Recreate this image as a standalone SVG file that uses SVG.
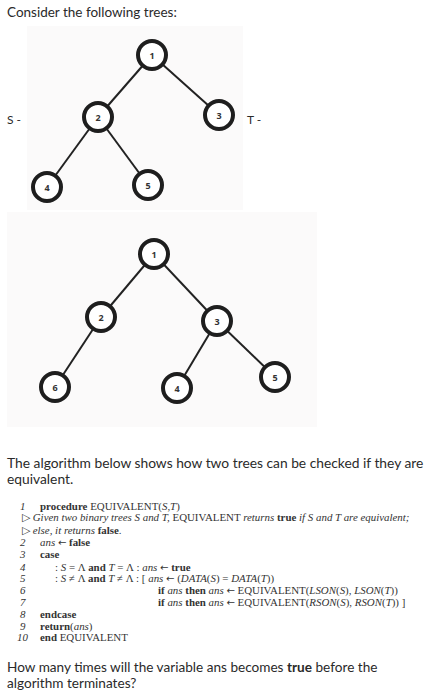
<svg xmlns="http://www.w3.org/2000/svg" width="445" height="700" viewBox="0 0 445 700">
<style>
.bg{fill:#ffffff}
.panel{fill:#fbfafa}
.t{font-family:Lato,"Open Sans",sans-serif;fill:#2a2a2a}
.node circle{fill:#ffffff;stroke:#1e1e1e;stroke-width:4}
.node text{font-family:"Open Sans","DejaVu Sans",sans-serif;font-weight:bold;font-size:9px;fill:#333;text-anchor:middle}
.edges line{stroke:#222;stroke-width:2}
.code{font-family:"Liberation Serif",serif;font-size:10.9px;fill:#333}
.i{font-style:italic}
.b{font-weight:bold}
.n{font-style:italic}
.a{font-family:"DejaVu Sans",sans-serif;font-size:10px}
</style>
<rect class="bg" width="445" height="700"/>
<text class="t" x="7" y="17" font-size="13.5">Consider the following trees:</text>
<rect class="panel" x="27" y="26" width="216" height="184"/>
<rect class="panel" x="7" y="212" width="310" height="215"/>
<text class="t" x="7" y="124" font-size="12">S -</text>
<text class="t" x="247" y="124" font-size="12">T -</text>
<g id="edgesS" class="edges">
<line x1="152" y1="55" x2="98" y2="117"/>
<line x1="152" y1="55" x2="219" y2="115"/>
<line x1="98" y1="117" x2="47" y2="187"/>
<line x1="98" y1="117" x2="148" y2="185"/>
</g>
<g id="edgesT" class="edges">
<line x1="154" y1="254" x2="101" y2="317"/>
<line x1="154" y1="254" x2="217" y2="321"/>
<line x1="101" y1="317" x2="55" y2="387"/>
<line x1="217" y1="321" x2="177" y2="388"/>
<line x1="217" y1="321" x2="275" y2="377"/>
</g>
<g id="S1" class="node"><circle cx="152" cy="55" r="14"/><text x="152" y="58.5">1</text></g>
<g id="S2" class="node"><circle cx="98" cy="117" r="14"/><text x="98" y="120.5">2</text></g>
<g id="S3" class="node"><circle cx="219" cy="115" r="14"/><text x="219" y="118.5">3</text></g>
<g id="S4" class="node"><circle cx="47" cy="187" r="14"/><text x="47" y="190.5">4</text></g>
<g id="S5" class="node"><circle cx="148" cy="185" r="14"/><text x="148" y="188.5">5</text></g>
<g id="T1" class="node"><circle cx="154" cy="254" r="14"/><text x="154" y="257.5">1</text></g>
<g id="T2" class="node"><circle cx="101" cy="317" r="14"/><text x="101" y="320.5">2</text></g>
<g id="T3" class="node"><circle cx="217" cy="321" r="14"/><text x="217" y="324.5">3</text></g>
<g id="T6" class="node"><circle cx="55" cy="387" r="14"/><text x="55" y="390.5">6</text></g>
<g id="T4" class="node"><circle cx="177" cy="388" r="14"/><text x="177" y="391.5">4</text></g>
<g id="T5" class="node"><circle cx="275" cy="377" r="14"/><text x="275" y="380.5">5</text></g>
<text class="t" x="7" y="468" font-size="13.8">The algorithm below shows how two trees can be checked if they are</text>
<text class="t" x="7" y="484" font-size="13.8">equivalent.</text>
<g class="code">
<text x="20" y="510" class="n">1</text>
<text x="40" y="510"><tspan class="b">procedure</tspan> EQUIVALENT(<tspan class="i">S</tspan>,<tspan class="i">T</tspan>)</text>
<text x="22" y="521"><tspan>▷ </tspan><tspan class="i">Given two binary trees S and T, </tspan>EQUIVALENT <tspan class="i">returns </tspan><tspan class="b">true</tspan><tspan class="i"> if S and T are equivalent;</tspan></text>
<text x="22" y="534"><tspan>▷ </tspan><tspan class="i">else, it returns </tspan><tspan class="b">false</tspan>.</text>
<text x="20" y="546" class="n">2</text>
<text x="40" y="546"><tspan class="i">ans</tspan> <tspan class="a">←</tspan> <tspan class="b">false</tspan></text>
<text x="20" y="558" class="n">3</text>
<text x="40" y="558" class="b">case</text>
<text x="20" y="571" class="n">4</text>
<text x="55" y="571">: <tspan class="i">S</tspan> = Λ <tspan class="b">and</tspan> <tspan class="i">T</tspan> = Λ : <tspan class="i">ans</tspan> <tspan class="a">←</tspan> <tspan class="b">true</tspan></text>
<text x="20" y="582" class="n">5</text>
<text x="55" y="582">: <tspan class="i">S</tspan> ≠ Λ <tspan class="b">and</tspan> <tspan class="i">T</tspan> ≠ Λ : [ <tspan class="i">ans</tspan> <tspan class="a">←</tspan> (<tspan class="i">DATA</tspan>(<tspan class="i">S</tspan>) = <tspan class="i">DATA</tspan>(<tspan class="i">T</tspan>))</text>
<text x="20" y="594" class="n">6</text>
<text x="158" y="594"><tspan class="b">if</tspan> <tspan class="i">ans</tspan> <tspan class="b">then</tspan> <tspan class="i">ans</tspan> <tspan class="a">←</tspan> EQUIVALENT(<tspan class="i">LSON</tspan>(<tspan class="i">S</tspan>), <tspan class="i">LSON</tspan>(<tspan class="i">T</tspan>))</text>
<text x="20" y="606" class="n">7</text>
<text x="158" y="606"><tspan class="b">if</tspan> <tspan class="i">ans</tspan> <tspan class="b">then</tspan> <tspan class="i">ans</tspan> <tspan class="a">←</tspan> EQUIVALENT(<tspan class="i">RSON</tspan>(<tspan class="i">S</tspan>), <tspan class="i">RSON</tspan>(<tspan class="i">T</tspan>)) ]</text>
<text x="20" y="618" class="n">8</text>
<text x="40" y="618" class="b">endcase</text>
<text x="20" y="630" class="n">9</text>
<text x="40" y="630"><tspan class="b">return</tspan>(<tspan class="i">ans</tspan>)</text>
<text x="17" y="641" class="n">10</text>
<text x="40" y="641"><tspan class="b">end</tspan> EQUIVALENT</text>
</g>
<text class="t" x="7" y="672" font-size="13.6">How many times will the variable ans becomes <tspan font-weight="bold">true</tspan> before the</text>
<text class="t" x="7" y="688" font-size="13.6">algorithm terminates?</text>
</svg>
